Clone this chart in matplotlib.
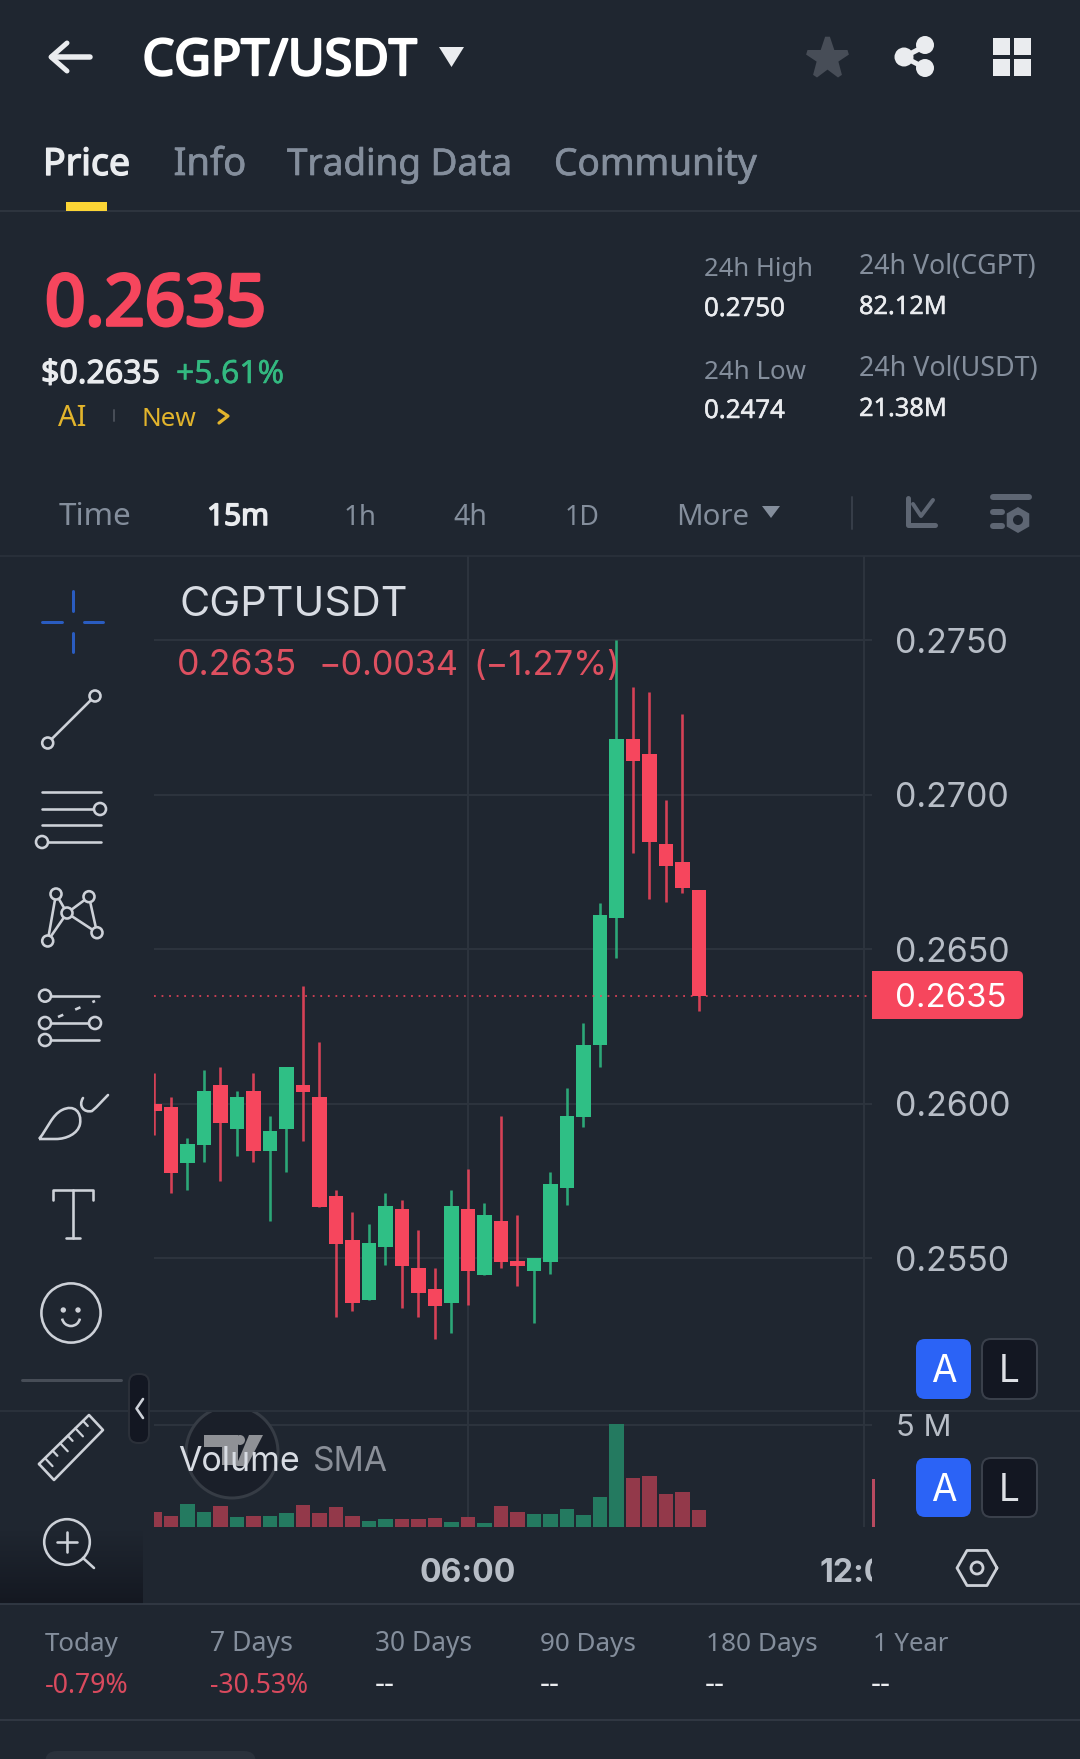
import numpy as np
import matplotlib
matplotlib.use("Agg")
import matplotlib.pyplot as plt
import matplotlib.patheffects as pe
from matplotlib.patches import Circle, Rectangle, FancyBboxPatch, Polygon, PathPatch, Arc
from matplotlib.path import Path
from matplotlib.transforms import Bbox

# ---------- data ----------
opens  = [.26000,.25990,.25809,.25867,.26061,.25919,.26042,.25848,.25919,.26061,.26023,.25702,.25560,.25366,.25538,.25660,.25470,
          .25402,.25357,.25660,.25446,.25621,.25493,.25458,.25490,.25729,.25958,.26189,.26600,.27181,.27131,.26841,.26783,.26693]
highs  = [.26101,.26023,.25890,.26110,.26120,.26042,.26100,.25961,.26120,.26382,.26201,.25722,.25651,.25612,.25712,.25690,.25593,
          .25470,.25722,.25790,.25679,.25960,.25641,.25501,.25780,.26050,.26262,.26649,.27500,.27349,.27332,.26981,.27261,.26693]
lows   = [.25899,.25712,.25722,.25812,.25751,.25832,.25812,.25621,.25780,.25880,.25667,.25311,.25331,.25366,.25479,.25340,.25311,
          .25240,.25260,.25350,.25446,.25470,.25412,.25291,.25451,.25672,.25924,.26119,.26473,.26812,.26664,.26652,.26682,.26300]
closes = [.25977,.25777,.25871,.26042,.25939,.26023,.25848,.25913,.26120,.26039,.25667,.25547,.25356,.25550,.25670,.25476,.25389,
          .25347,.25669,.25458,.25641,.25490,.25477,.25501,.25740,.25962,.26191,.26612,.27181,.27110,.26847,.26770,.26698,.26350]
volumes_m = [.71,.51,1.09,.71,1.01,.46,.51,.51,.66,1.06,.66,.96,.51,.26,.36,.36,.36,.41,.21,.46,.17,1.01,.71,.61,.61,.86,.56,1.45,
             5.07,2.39,2.49,1.60,1.70,.81]
stray_volume_m = 2.33
price_ticks = [0.2550, 0.2600, 0.2650, 0.2700, 0.2750]
time_tick_pos = [19, 43]
time_tick_labels = ["06:00", "12:00"]
last_price = 0.2635

# ---------- styles ----------
BG = "#1F2630"; GRID = "#2C333D"; RED = "#F6465D"; GREEN = "#2FBF85"
VRED = "#93394A"; VGREEN = "#247A60"; GREY = "#848E9C"; WHITE = "#EAECEF"; AXTXT = "#B7BDC6"
ICON = "#CDD1D8"; CHRED = "#DE5060"
UI = ["Noto Sans", "DejaVu Sans"]; CH = ["Inter", "DejaVu Sans"]
W, H = 1080, 1759
PX = 0.72

fig = plt.figure(figsize=(W/100, H/100), dpi=100, facecolor=BG)
rend = fig.canvas.get_renderer()

def axes_px(x0, y0, x1, y1, **kw):
    return fig.add_axes([x0/W, 1-y1/H, (x1-x0)/W, (y1-y0)/H], **kw)

n = len(opens)
xs = np.arange(n)

# ---------- price pane ----------
ax = axes_px(154, 556, 872, 1411, facecolor="none", zorder=2)
ax.set_xlim(-0.03, 43.485)
ax.set_ylim(0.250065, 0.277717)
colors = [GREEN if c >= o else RED for o, c in zip(opens, closes)]
ax.vlines(xs, lows, highs, colors=colors, lw=2.6*PX, zorder=3, alpha=0.85)
ax.bar(xs, [abs(c-o) for o, c in zip(opens, closes)], bottom=[min(o, c) for o, c in zip(opens, closes)],
       width=0.85, color=colors, zorder=4, linewidth=0)
ax.axhline(last_price, color=RED, lw=1.8*PX, ls=(0, (1, 3.2)), zorder=5, alpha=0.85)
ax.set_yticks(price_ticks)
ax.set_yticklabels([f"{p:.4f}" for p in price_ticks])
ax.yaxis.tick_right()
ax.set_xticks(time_tick_pos)
ax.tick_params(axis="x", length=0, labelbottom=False)
ax.tick_params(axis="y", length=0, pad=23*PX, labelsize=34*PX, labelcolor=AXTXT)
for t in ax.get_yticklabels():
    t.set_family(CH)
ax.grid(True, color=GRID, lw=2*PX, zorder=0)
ax.set_axisbelow(True)
for s in ax.spines.values():
    s.set_visible(False)

# ---------- volume pane ----------
av = axes_px(154, 1411, 872, 1526.5, facecolor="none", zorder=2)
av.set_xlim(-0.03, 43.485)
av.set_ylim(0, 5.69)
vcol = [VGREEN if c >= o else VRED for o, c in zip(opens, closes)]
av.bar(xs, volumes_m, width=0.88, color=vcol, linewidth=0, zorder=3)
av.bar([43.58], [stray_volume_m], width=0.19, color="#B84A60", linewidth=0, zorder=3, clip_on=False)
av.set_yticks([5])
av.set_yticklabels(["5 M"])
av.yaxis.tick_right()
av.set_xticks(time_tick_pos)
av.set_xticklabels(time_tick_labels)
av.tick_params(axis="y", length=0, pad=24*PX, labelsize=31*PX, labelcolor=AXTXT)
av.tick_params(axis="x", length=0, pad=31*PX, labelsize=32*PX, labelcolor=AXTXT)
for t in av.get_yticklabels():
    t.set_family(CH)
clip = Bbox([[0, 0], [872, H]])
for t in av.get_xticklabels():
    t.set_family(CH); t.set_fontweight("bold")
    t.set_clip_on(True); t.set_clip_box(clip)
av.grid(True, color=GRID, lw=2*PX, zorder=0)
av.set_axisbelow(True)
for s in av.spines.values():
    s.set_visible(False)

# ---------- overlay in pixels ----------
ov = fig.add_axes([0, 0, 1, 1], facecolor="none", zorder=5)
ov.set_axis_off()

grad = np.zeros((64, 1, 4))
c0 = np.array(matplotlib.colors.to_rgb(BG)); c1 = np.array(matplotlib.colors.to_rgb("#141821"))
for i, f in enumerate(np.linspace(0, 1, 64)):
    grad[i, 0, :3] = c0*(1-f)+c1*f
    grad[i, 0, 3] = 1
ov.imshow(grad, extent=[0, 143, 1604, 1530], aspect="auto", zorder=0)
ov.set_xlim(0, W); ov.set_ylim(H, 0)

def T(x0, x1, base, s, color=GREY, fam=UI, stroke=0.0):
    t = ov.text(x0, base, s, color=color, family=fam, fontsize=20, ha="left", va="baseline", zorder=20)
    w = t.get_window_extent(rend).width
    t.set_fontsize(20*(x1-x0)/w)
    if stroke:
        t.set_path_effects([pe.withStroke(linewidth=stroke*PX, foreground=color)])
    return t

def L(xs_, ys_, c=ICON, lw=2.6, z=10, **kw):
    ov.plot(xs_, ys_, color=c, lw=lw*PX, solid_capstyle="round", solid_joinstyle="round", zorder=z, **kw)

def ring(x, y, r, c=ICON, lw=2.6, fc=BG, z=11):
    ov.add_patch(Circle((x, y), r, fc=fc, ec=c, lw=lw*PX, zorder=z))

def rbox(x0, y0, x1, y1, r, fc, ec="none", lw=0, z=9):
    ov.add_patch(FancyBboxPatch((x0+r, y0+r), x1-x0-2*r, y1-y0-2*r, boxstyle=f"round,pad={r},rounding_size={r}",
                                fc=fc, ec=ec, lw=lw*PX, zorder=z))

# separators
for y, c in [(211, "#2F3640"), (555.5, "#2A313B"), (1411, GRID), (1604, "#323A45"), (1720, "#323A45")]:
    L([0, W], [y, y], c=c, lw=1.8, z=1)

# header
T(142.5, 417, 75, "CGPT/USDT", color="#FFFFFF", stroke=2.4)
L([52, 90], [57, 57], c=WHITE, lw=5.5)
L([67, 51, 67], [43, 57, 71], c=WHITE, lw=5)
ov.add_patch(Polygon([(439, 47), (464, 47), (451.5, 67)], fc=WHITE, ec="none", zorder=10))
ov.plot([826.5], [58], marker="*", ms=42*PX, color="#474D57", mec="#474D57", mew=5*PX, zorder=10)
L([925, 904, 925], [46, 57, 68], c=WHITE, lw=5)
for (x, y, r) in [(925, 45, 9), (904, 57, 9.5), (925, 68, 9)]:
    ov.add_patch(Circle((x, y), r, fc=WHITE, ec="none", zorder=10))
for (x, y) in [(993, 38), (1014, 38), (993, 59), (1014, 59)]:
    ov.add_patch(Rectangle((x, y), 16.5, 16.5, fc=WHITE, ec="none", zorder=10))

# tabs
T(43, 130, 175, "Price", color=WHITE, stroke=1.4)
T(173.5, 246, 175, "Info", stroke=0.7)
T(287, 512, 175, "Trading Data", stroke=0.7)
T(554, 757, 175, "Community", stroke=0.7)
ov.add_patch(Rectangle((66, 202), 41, 9, fc="#FCD535", ec="none", zorder=10))

# price block
T(45, 266, 325, "0.2635", color=RED, stroke=3.6)
T(41, 160, 383, "$0.2635", color=WHITE, stroke=1.2)
T(176, 284, 383, "+5.61%", color="#33B980", stroke=0.5)
T(58.5, 87, 426, "AI", color="#E2B42C")
L([113.6, 113.6], [410, 421], c="#474D57", lw=2)
T(141, 196, 426, "New", color="#E2B42C")
L([219, 228, 219], [410, 416, 423], c="#E2B42C", lw=3.2)
T(704, 813, 276, "24h High")
T(859, 1036, 274, "24h Vol(CGPT)")
T(704, 785, 316, "0.2750", color=WHITE, stroke=0.5)
T(859, 947, 314, "82.12M", color=WHITE, stroke=0.5)
T(704, 806, 379, "24h Low")
T(859, 1038, 376, "24h Vol(USDT)")
T(704, 785, 418, "0.2474", color=WHITE, stroke=0.5)
T(859, 947, 416, "21.38M", color=WHITE, stroke=0.5)

# intervals
T(58.5, 131, 525, "Time")
T(207, 269, 525, "15m", color=WHITE, stroke=1.6)
T(344, 377, 525, "1h")
T(453, 487, 525, "4h")
T(565, 600, 525, "1D")
T(676, 749, 525, "More")
ov.add_patch(Polygon([(762, 506), (780, 506), (771, 518)], fc=GREY, ec="none", zorder=10))
L([852, 852], [497, 529], c="#363D48", lw=2)
IC2 = "#5E6673"
L([908, 908, 935], [498, 525, 525], c=IC2, lw=5)
L([913, 921, 933], [504, 516, 500], c=IC2, lw=4)
L([993, 1029], [497, 497], c=IC2, lw=6)
L([993, 1002], [512, 512], c=IC2, lw=6)
L([993, 1002], [526, 526], c=IC2, lw=6)
ang = np.deg2rad(np.arange(90, 450, 60))
ov.add_patch(Polygon(np.c_[1018+13*np.cos(ang), 520+13*np.sin(ang)], fc=IC2, ec="none", zorder=10))
ov.add_patch(Circle((1018, 520), 5, fc=BG, ec="none", zorder=11))

# chart legend
T(179, 408, 616, "CGPTUSDT", color="#D8DCE3", fam=CH)
T(177, 297, 675, "0.2635", color=CHRED, fam=CH)
T(318, 458, 675, "−0.0034", color=CHRED, fam=CH)
T(473, 620, 675, "(−1.27%)", color=CHRED, fam=CH)

# price tag
ov.add_patch(Rectangle((872, 971), 140, 48, fc=RED, ec="none", zorder=9))
rbox(1000, 971, 1023, 1019, 5, RED)
T(895, 1006, 1007, "0.2635", color="#FFFFFF", fam=CH)

# A / L buttons
for (y0, y1) in [(1339, 1399), (1458, 1517)]:
    rbox(916, y0, 971, y1, 9, "#2B63F6")
    rbox(982, y0, 1037, y1, 9, "#131722", ec="#3A404B", lw=2)
    ov.text(943.5, (y0+y1)/2+13.5, "A", color="#FFFFFF", fontsize=37*PX, family=CH, ha="center", va="baseline", zorder=20)
    ov.text(1009.5, (y0+y1)/2+13.5, "L", color="#DDE0E5", fontsize=37*PX, family=CH, ha="center", va="baseline", zorder=20)

# settings hexagon
ang = np.deg2rad(np.arange(0, 420, 60))
L(977+20*np.cos(ang), 1568+17.6*np.sin(ang)*1.15, lw=2.8)
ring(977, 1568, 6, lw=2.8)

# TV logo + volume legend
logo = Circle((232, 1452), 46, fc="#1A1F29", ec="#363C45", lw=3*PX, zorder=2)
ov.add_patch(logo)
logo.set_clip_path(Rectangle((100, 1412), 300, 200, transform=ov.transData))
GL = "#8F9196"
ov.add_patch(Polygon([(204, 1435), (238, 1435), (238, 1465), (222, 1465), (222, 1447), (204, 1447)], fc=GL, ec="none", zorder=3))
ov.add_patch(Polygon([(249, 1435), (263, 1435), (247, 1466), (236, 1466)], fc=GL, ec="none", zorder=3))
ov.add_patch(Circle((240, 1440), 5, fc=GL, ec="none", zorder=3))
T(178, 299.5, 1470.7, "Volume", color="#D8DCE3", fam=CH)
T(313, 388, 1470.7, "SMA", color="#8A8F98", fam=CH)

# left toolbar
BLUE = "#2A5CC0"
L([42, 62], [622, 622], c=BLUE, lw=3); L([84, 103], [622, 622], c=BLUE, lw=3)
L([72.7, 72.7], [591, 611], c=BLUE, lw=3); L([72.7, 72.7], [633, 652], c=BLUE, lw=3)

L([47.7, 95], [743, 696]); ring(47.7, 743, 5.5); ring(95, 696, 5.5)

L([42, 101], [792, 792]); L([42, 100], [809, 809]); L([42, 101], [825.3, 825.3]); L([42, 101], [842, 842])
ring(100, 809, 6); ring(42, 842, 6)

nod = {"a": (56, 894), "b": (89, 896.7), "c": (67, 913), "d": (97, 932.7), "e": (47.7, 941)}
for p, q in ["ac", "ae", "cb", "cd", "ce", "bd"]:
    L([nod[p][0], nod[q][0]], [nod[p][1], nod[q][1]])
for v in nod.values():
    ring(v[0], v[1], 5.5)

L([45, 99], [995.7, 995.7]); L([45, 95], [1023, 1023]); L([45, 99], [1040, 1040])
ov.plot([58, 95], [1017, 1001], color=ICON, lw=2.6*PX, ls=(0, (2.2, 5)), zorder=10)
ring(45, 995.7, 6); ring(45, 1023, 6); ring(95, 1023, 6); ring(45, 1040, 6)

brush = Path([(39, 1139), (48, 1128), (52, 1115), (62, 1110), (74, 1104), (82, 1112), (80, 1124),
              (78, 1134), (66, 1139), (56, 1139), (39, 1139)],
             [1, 4, 4, 4, 4, 4, 4, 4, 4, 4, 2])
ov.add_patch(PathPatch(brush, fc="none", ec=ICON, lw=2.6*PX, zorder=10))
hook = Path([(83, 1098), (78, 1106), (84, 1113), (92, 1111), (98, 1106), (103, 1100), (108, 1095)],
            [1, 4, 4, 4, 4, 4, 4])
ov.add_patch(PathPatch(hook, fc="none", ec=ICON, lw=2.6*PX, capstyle="round", zorder=10))

L([53, 53, 93, 93], [1200, 1190, 1190, 1200]); L([73, 73], [1190, 1238]); L([65.7, 80], [1238, 1238])

ring(71, 1313, 29.6)
ov.add_patch(Circle((63.3, 1310), 2.7, fc=ICON, ec="none", zorder=12))
ov.add_patch(Circle((78, 1310), 2.7, fc=ICON, ec="none", zorder=12))
ov.add_patch(Arc((71, 1317), 18, 18, theta1=10, theta2=170, ec=ICON, lw=2.6*PX, zorder=12))

L([22, 121], [1380, 1380], c="#474D57", lw=3)
rbox(129, 1374, 149, 1443, 9, "#131722", ec="#2B3039", lw=2)
L([143, 136.5, 143], [1399, 1408.5, 1418], c=ICON, lw=2.6)

c = np.array([(39, 1464), (89, 1415), (103, 1430), (54, 1480), (39, 1464)], float)
L(c[:, 0], c[:, 1])
A = c[0]; B = c[1]; perp = (c[3]-c[0])/np.linalg.norm(c[3]-c[0])
for i, f in enumerate(np.linspace(0.12, 0.88, 6)):
    P = A+(B-A)*f
    Q = P+perp*(11 if i % 2 == 0 else 7)
    L([P[0], Q[0]], [P[1], Q[1]], lw=2.2)

ring(67, 1542, 22.8, fc="none")
L([57, 77], [1542, 1542]); L([67, 67], [1532, 1552])
L([83, 94], [1558, 1568])

# bottom stats
T(45, 119, 1650.7, "Today")
T(210, 293, 1650.7, "7 Days")
T(375, 472, 1650.7, "30 Days")
T(540, 636, 1650.7, "90 Days")
T(706, 817.5, 1650.7, "180 Days")
T(872.6, 948, 1650.7, "1 Year")
T(45, 129, 1693, "-0.79%", color="#D94A5E")
T(210, 308.5, 1693, "-30.53%", color="#D94A5E")
for x in [375, 540, 705, 871]:
    T(x, x+20, 1693, "--", color=WHITE)
rbox(45, 1751, 256, 1775, 12, "#2A313B", z=9)

ov.set_xlim(0, W); ov.set_ylim(H, 0)
fig.savefig("out.png", dpi=100, facecolor=BG)
